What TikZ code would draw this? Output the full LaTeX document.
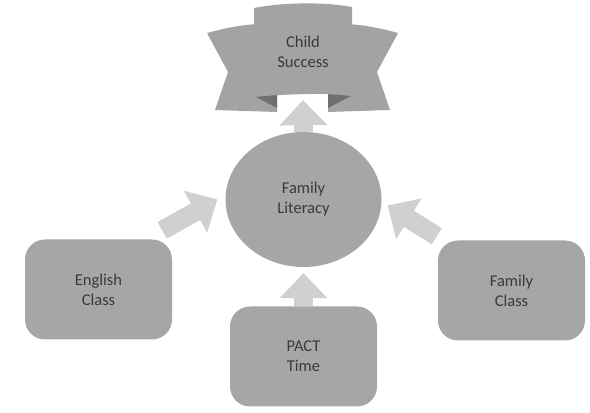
\documentclass[tikz,border=0pt]{standalone}
\usepackage{fontspec}
\setmainfont{Carlito}
\usepackage{tikz}
\usetikzlibrary{arrows.meta,positioning,shapes.geometric}
\definecolor{boxgray}{HTML}{A6A6A6}
\definecolor{arrgray}{HTML}{D0D0D0}
\definecolor{ribgray}{HTML}{A3A3A3}
\definecolor{folddark}{HTML}{6F6F6F}
\definecolor{txtgray}{HTML}{3A3A3A}

\begin{document}
\begin{tikzpicture}[x=1pt,y=1pt,
  lbl/.style={align=center,text=txtgray,font=\fontsize{16.5}{20}\selectfont},
  box/.style={lbl,fill=boxgray,rounded corners=20pt,minimum width=147pt,minimum height=100pt},
  blk/.style={draw=arrgray,line width=19pt,-{Triangle[length=25pt,width=48pt,line width=0pt]}}]
\useasboundingbox (0,0) rectangle (590,413);
% ribbon: tails, folds, front panel
\fill[ribgray] (207,380) .. controls (225,385) and (245,389) .. (262,389) -- (277,318) -- (277,301) -- (215,303) -- (228,341) -- cycle;
\fill[ribgray] (398,380) .. controls (380,385) and (360,389) .. (343,389) -- (328,318) -- (328,301) -- (390,303) -- (377,341) -- cycle;
\fill[folddark] (254,317) -- (277,319) -- (277,305) -- cycle;
\fill[folddark] (351,317) -- (328,319) -- (328,305) -- cycle;
\fill[ribgray] (254,316) .. controls (285,319) and (320,320) .. (352,318) -- (352,406) .. controls (325,411) and (285,411) .. (254,405) -- cycle;
\node[lbl,minimum width=98pt,minimum height=89pt,inner sep=0pt] (succ) at (303,361.5) {Child\\Success};
\node[box,ellipse,sharp corners,minimum width=156pt,minimum height=135pt,inner sep=0pt] (lit) at (303.5,213.5) {Family\\Literacy};
\node[box] (eng) at (98.5,123.5) {English\\Class};
\node[box] (pact) at (303.5,56.5) {PACT\\Time};
\node[box] (fam) at (511.5,122.5) {Family\\Class};
\draw[blk](lit.north)--([yshift=-4pt]succ.south);
\draw[blk](pact.north)--([yshift=-6pt]lit.south);
\draw[blk]([shift={(-10,9)}]eng.north east)--([xshift=-8pt]lit.west);
\draw[blk]([shift={(-1,4)}]fam.north west)--([shift={(6,-6)}]lit.east);
\end{tikzpicture}
\end{document}
